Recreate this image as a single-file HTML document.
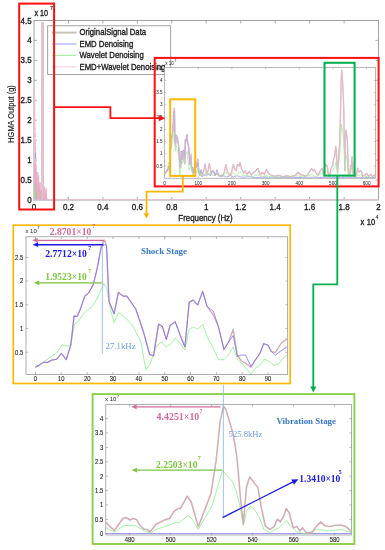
<!DOCTYPE html><html><head><meta charset="utf-8"><title>HGMA Output denoising</title>
<style>html,body{margin:0;padding:0;background:#fff;width:385px;height:550px;overflow:hidden}svg{display:block}</style></head><body>
<svg width="385" height="550" viewBox="0 0 385 550">
<rect width="385" height="550" fill="#fff"/>
<rect x="34.0" y="20.5" width="344.5" height="179.5" fill="none" stroke="#8c8c8c" stroke-width="0.80"/>
<path d="M68.5 200.0v-3.0M68.5 20.5v3.0M102.9 200.0v-3.0M102.9 20.5v3.0M137.4 200.0v-3.0M137.4 20.5v3.0M171.8 200.0v-3.0M171.8 20.5v3.0M206.2 200.0v-3.0M206.2 20.5v3.0M240.7 200.0v-3.0M240.7 20.5v3.0M275.2 200.0v-3.0M275.2 20.5v3.0M309.6 200.0v-3.0M309.6 20.5v3.0M344.1 200.0v-3.0M344.1 20.5v3.0M34.0 180.1h3.0M378.5 180.1h-3.0M34.0 160.1h3.0M378.5 160.1h-3.0M34.0 140.2h3.0M378.5 140.2h-3.0M34.0 120.2h3.0M378.5 120.2h-3.0M34.0 100.3h3.0M378.5 100.3h-3.0M34.0 80.3h3.0M378.5 80.3h-3.0M34.0 60.4h3.0M378.5 60.4h-3.0M34.0 40.4h3.0M378.5 40.4h-3.0" stroke="#8c8c8c" stroke-width="0.70" fill="none"/>
<text transform="translate(34.00,210.20) scale(1,1.130)" font-size="8.00" fill="#1a1a1a" stroke="#1a1a1a" stroke-width="0.30" text-anchor="middle" font-family='"Liberation Sans", Arial, Helvetica, sans-serif' font-weight="normal">0</text>
<text transform="translate(68.45,210.20) scale(1,1.130)" font-size="8.00" fill="#1a1a1a" stroke="#1a1a1a" stroke-width="0.30" text-anchor="middle" font-family='"Liberation Sans", Arial, Helvetica, sans-serif' font-weight="normal">0.2</text>
<text transform="translate(102.90,210.20) scale(1,1.130)" font-size="8.00" fill="#1a1a1a" stroke="#1a1a1a" stroke-width="0.30" text-anchor="middle" font-family='"Liberation Sans", Arial, Helvetica, sans-serif' font-weight="normal">0.4</text>
<text transform="translate(137.35,210.20) scale(1,1.130)" font-size="8.00" fill="#1a1a1a" stroke="#1a1a1a" stroke-width="0.30" text-anchor="middle" font-family='"Liberation Sans", Arial, Helvetica, sans-serif' font-weight="normal">0.6</text>
<text transform="translate(171.80,210.20) scale(1,1.130)" font-size="8.00" fill="#1a1a1a" stroke="#1a1a1a" stroke-width="0.30" text-anchor="middle" font-family='"Liberation Sans", Arial, Helvetica, sans-serif' font-weight="normal">0.8</text>
<text transform="translate(206.25,210.20) scale(1,1.130)" font-size="8.00" fill="#1a1a1a" stroke="#1a1a1a" stroke-width="0.30" text-anchor="middle" font-family='"Liberation Sans", Arial, Helvetica, sans-serif' font-weight="normal">1</text>
<text transform="translate(240.70,210.20) scale(1,1.130)" font-size="8.00" fill="#1a1a1a" stroke="#1a1a1a" stroke-width="0.30" text-anchor="middle" font-family='"Liberation Sans", Arial, Helvetica, sans-serif' font-weight="normal">1.2</text>
<text transform="translate(275.15,210.20) scale(1,1.130)" font-size="8.00" fill="#1a1a1a" stroke="#1a1a1a" stroke-width="0.30" text-anchor="middle" font-family='"Liberation Sans", Arial, Helvetica, sans-serif' font-weight="normal">1.4</text>
<text transform="translate(309.60,210.20) scale(1,1.130)" font-size="8.00" fill="#1a1a1a" stroke="#1a1a1a" stroke-width="0.30" text-anchor="middle" font-family='"Liberation Sans", Arial, Helvetica, sans-serif' font-weight="normal">1.6</text>
<text transform="translate(344.05,210.20) scale(1,1.130)" font-size="8.00" fill="#1a1a1a" stroke="#1a1a1a" stroke-width="0.30" text-anchor="middle" font-family='"Liberation Sans", Arial, Helvetica, sans-serif' font-weight="normal">1.8</text>
<text transform="translate(378.50,210.20) scale(1,1.130)" font-size="8.00" fill="#1a1a1a" stroke="#1a1a1a" stroke-width="0.30" text-anchor="middle" font-family='"Liberation Sans", Arial, Helvetica, sans-serif' font-weight="normal">2</text>
<text transform="translate(31.60,203.00) scale(1,1.130)" font-size="8.00" fill="#1a1a1a" stroke="#1a1a1a" stroke-width="0.30" text-anchor="end" font-family='"Liberation Sans", Arial, Helvetica, sans-serif' font-weight="normal">0</text>
<text transform="translate(31.60,183.06) scale(1,1.130)" font-size="8.00" fill="#1a1a1a" stroke="#1a1a1a" stroke-width="0.30" text-anchor="end" font-family='"Liberation Sans", Arial, Helvetica, sans-serif' font-weight="normal">0.5</text>
<text transform="translate(31.60,163.11) scale(1,1.130)" font-size="8.00" fill="#1a1a1a" stroke="#1a1a1a" stroke-width="0.30" text-anchor="end" font-family='"Liberation Sans", Arial, Helvetica, sans-serif' font-weight="normal">1</text>
<text transform="translate(31.60,143.17) scale(1,1.130)" font-size="8.00" fill="#1a1a1a" stroke="#1a1a1a" stroke-width="0.30" text-anchor="end" font-family='"Liberation Sans", Arial, Helvetica, sans-serif' font-weight="normal">1.5</text>
<text transform="translate(31.60,123.22) scale(1,1.130)" font-size="8.00" fill="#1a1a1a" stroke="#1a1a1a" stroke-width="0.30" text-anchor="end" font-family='"Liberation Sans", Arial, Helvetica, sans-serif' font-weight="normal">2</text>
<text transform="translate(31.60,103.28) scale(1,1.130)" font-size="8.00" fill="#1a1a1a" stroke="#1a1a1a" stroke-width="0.30" text-anchor="end" font-family='"Liberation Sans", Arial, Helvetica, sans-serif' font-weight="normal">2.5</text>
<text transform="translate(31.60,83.33) scale(1,1.130)" font-size="8.00" fill="#1a1a1a" stroke="#1a1a1a" stroke-width="0.30" text-anchor="end" font-family='"Liberation Sans", Arial, Helvetica, sans-serif' font-weight="normal">3</text>
<text transform="translate(31.60,63.39) scale(1,1.130)" font-size="8.00" fill="#1a1a1a" stroke="#1a1a1a" stroke-width="0.30" text-anchor="end" font-family='"Liberation Sans", Arial, Helvetica, sans-serif' font-weight="normal">3.5</text>
<text transform="translate(31.60,43.44) scale(1,1.130)" font-size="8.00" fill="#1a1a1a" stroke="#1a1a1a" stroke-width="0.30" text-anchor="end" font-family='"Liberation Sans", Arial, Helvetica, sans-serif' font-weight="normal">4</text>
<text transform="translate(31.60,23.50) scale(1,1.130)" font-size="8.00" fill="#1a1a1a" stroke="#1a1a1a" stroke-width="0.30" text-anchor="end" font-family='"Liberation Sans", Arial, Helvetica, sans-serif' font-weight="normal">4.5</text>
<text transform="translate(34.40,16.00) scale(1,1.130)" font-size="7.20" fill="#1a1a1a" stroke="#1a1a1a" stroke-width="0.30" text-anchor="start" font-family='"Liberation Sans", Arial, Helvetica, sans-serif' font-weight="normal">x 10</text>
<text transform="translate(49.90,10.00) scale(1,1.130)" font-size="5.40" fill="#1a1a1a" stroke="#1a1a1a" stroke-width="0.08" text-anchor="start" font-family='"Liberation Sans", Arial, Helvetica, sans-serif' font-weight="normal">7</text>
<text transform="translate(360.60,224.80) scale(1,1.130)" font-size="7.60" fill="#1a1a1a" stroke="#1a1a1a" stroke-width="0.30" text-anchor="start" font-family='"Liberation Sans", Arial, Helvetica, sans-serif' font-weight="normal">x</text>
<text transform="translate(366.80,224.80) scale(1,1.130)" font-size="7.60" fill="#1a1a1a" stroke="#1a1a1a" stroke-width="0.30" text-anchor="start" font-family='"Liberation Sans", Arial, Helvetica, sans-serif' font-weight="normal">10</text>
<text transform="translate(375.60,219.40) scale(1,1.130)" font-size="5.40" fill="#1a1a1a" stroke="#1a1a1a" stroke-width="0.08" text-anchor="start" font-family='"Liberation Sans", Arial, Helvetica, sans-serif' font-weight="normal">4</text>
<text transform="translate(205.50,220.90) scale(1,1.130)" font-size="7.90" fill="#1a1a1a" stroke="#1a1a1a" stroke-width="0.30" text-anchor="middle" font-family='"Liberation Sans", Arial, Helvetica, sans-serif' font-weight="normal">Frequency (Hz)</text>
<text x="0.0" y="0.0" font-size="7.45" fill="#1a1a1a" stroke="#1a1a1a" stroke-width="0.12" text-anchor="middle" font-family='"Liberation Sans", Arial, Helvetica, sans-serif' font-weight="normal" transform="translate(14.3,114) rotate(-90) scale(1,1.1)">HGMA Output (g)</text>
<path d="M33.9 200L34.1 84.5L35.0 84.5L35.6 140L36.2 152L36.5 171.5L38.6 172.5L39.2 182.5L41 182.5L41 200Z" fill="#f0bfd0"/>
<path d="M43.6 200L43.8 185.5L45.2 187L46.4 193L47.4 199L47.8 200Z" fill="#f0bfd0"/>
<polyline points="34.3,163.6 34.5,199.5 34.8,166.8 35.0,199.5 35.2,177.7 35.4,199.5 35.7,164.0 35.9,199.5 36.1,165.2 36.3,199.5 36.6,182.2 36.8,199.5 37.0,176.6 37.2,199.5 37.5,181.2 37.7,199.5 37.9,182.8 38.1,199.5 38.4,185.1 38.6,199.5 38.8,175.3 39.0,199.5 39.3,187.0 39.5,199.5 39.7,184.9 39.9,199.5 40.2,192.1 40.4,199.5 40.6,190.9 40.8,199.5 41.1,190.0 41.3,199.5 41.5,190.0 41.7,199.5 42.0,190.0 42.2,199.5 42.4,190.0 42.6,199.5 42.9,190.0 43.1,199.5 43.3,190.0 43.5,199.5 43.8,188.4 44.0,199.5 44.2,197.8 44.4,199.5 44.7,197.6 44.9,199.5 45.1,194.5 45.3,199.5 45.6,194.2 45.8,199.5 46.0,189.6 46.2,199.5 46.5,188.2 46.7,199.5" fill="none" stroke="#e6a9c0" stroke-width="0.45" stroke-linejoin="round" />
<polyline points="34.6,199.0 34.9,184.5 35.2,199.0" fill="none" stroke="#7de07d" stroke-width="0.50" stroke-linejoin="round" />
<polyline points="36.4,199.0 36.7,192.0 37.0,199.0" fill="none" stroke="#7de07d" stroke-width="0.40" stroke-linejoin="round" />
<polyline points="42.4,199.0 42.7,190.0 43.0,199.0" fill="none" stroke="#7de07d" stroke-width="0.50" stroke-linejoin="round" />
<polyline points="35.3,200.0 35.4,128.0 35.6,200.0" fill="none" stroke="#b4b4f6" stroke-width="0.50" stroke-linejoin="round" stroke-dasharray="2 5"/>
<polyline points="35.1,153.0 35.5,153.0 35.3,159.0" fill="none" stroke="#8a8af0" stroke-width="0.70" stroke-linejoin="round" />
<rect x="41.4" y="22" width="2.3" height="178" fill="#e2c6cd"/>
<path d="M41.6 200V22M43.5 22V200" stroke="#ceadb6" stroke-width="0.5" fill="none"/>
<polyline points="34.0,200.0 60.0,200.0" fill="none" stroke="#b8b8f0" stroke-width="0.50" stroke-linejoin="round" />
<polyline points="46.0,199.6 66.5,199.6 67.6,197.6 68.6,199.6 378.5,199.6" fill="none" stroke="#e6c0cc" stroke-width="1.00" stroke-linejoin="round" />
<rect x="47.7" y="25.8" width="123.0" height="48.6" fill="#fff" stroke="#8c8c8c" stroke-width="0.8"/>
<line x1="51.9" y1="32.6" x2="76.4" y2="32.6" stroke="#c8c2b4" stroke-width="2.0"/>
<text transform="translate(79.50,35.40) scale(1,1.130)" font-size="7.75" fill="#1a1a1a" stroke="#1a1a1a" stroke-width="0.30" text-anchor="start" font-family='"Liberation Sans", Arial, Helvetica, sans-serif' font-weight="normal">OriginalSignal Data</text>
<line x1="51.9" y1="44.0" x2="76.4" y2="44.0" stroke="#a8a8ff" stroke-width="1.2"/>
<text transform="translate(79.50,46.80) scale(1,1.130)" font-size="7.75" fill="#1a1a1a" stroke="#1a1a1a" stroke-width="0.30" text-anchor="start" font-family='"Liberation Sans", Arial, Helvetica, sans-serif' font-weight="normal">EMD Denoising</text>
<line x1="51.9" y1="55.4" x2="76.4" y2="55.4" stroke="#a6f2a6" stroke-width="1.2"/>
<text transform="translate(79.50,58.20) scale(1,1.130)" font-size="7.75" fill="#1a1a1a" stroke="#1a1a1a" stroke-width="0.30" text-anchor="start" font-family='"Liberation Sans", Arial, Helvetica, sans-serif' font-weight="normal">Wavelet Denoising</text>
<line x1="51.9" y1="66.8" x2="76.4" y2="66.8" stroke="#ffd6e4" stroke-width="1.2"/>
<text transform="translate(79.50,69.60) scale(1,1.130)" font-size="7.75" fill="#1a1a1a" stroke="#1a1a1a" stroke-width="0.30" text-anchor="start" font-family='"Liberation Sans", Arial, Helvetica, sans-serif' font-weight="normal">EMD+Wavelet Denoising</text>
<rect x="164.5" y="67.5" width="211.0" height="110.7" fill="#fff"/>
<rect x="164.5" y="67.5" width="211.0" height="110.7" fill="none" stroke="#8c8c8c" stroke-width="0.60"/>
<path d="M198.3 178.2v-1.8M198.3 67.5v1.8M231.9 178.2v-1.8M231.9 67.5v1.8M265.6 178.2v-1.8M265.6 67.5v1.8M299.3 178.2v-1.8M299.3 67.5v1.8M332.9 178.2v-1.8M332.9 67.5v1.8M366.6 178.2v-1.8M366.6 67.5v1.8M164.5 166.0h1.8M375.5 166.0h-1.8M164.5 153.8h1.8M375.5 153.8h-1.8M164.5 141.5h1.8M375.5 141.5h-1.8M164.5 129.3h1.8M375.5 129.3h-1.8M164.5 117.1h1.8M375.5 117.1h-1.8M164.5 104.8h1.8M375.5 104.8h-1.8M164.5 92.6h1.8M375.5 92.6h-1.8M164.5 80.4h1.8M375.5 80.4h-1.8" stroke="#8c8c8c" stroke-width="0.50" fill="none"/>
<text transform="translate(164.60,185.00) scale(1,1.000)" font-size="4.60" fill="#1a1a1a" text-anchor="middle" font-family='"Liberation Sans", Arial, Helvetica, sans-serif' font-weight="normal">0</text>
<text transform="translate(198.27,185.00) scale(1,1.000)" font-size="4.60" fill="#1a1a1a" text-anchor="middle" font-family='"Liberation Sans", Arial, Helvetica, sans-serif' font-weight="normal">100</text>
<text transform="translate(231.94,185.00) scale(1,1.000)" font-size="4.60" fill="#1a1a1a" text-anchor="middle" font-family='"Liberation Sans", Arial, Helvetica, sans-serif' font-weight="normal">200</text>
<text transform="translate(265.61,185.00) scale(1,1.000)" font-size="4.60" fill="#1a1a1a" text-anchor="middle" font-family='"Liberation Sans", Arial, Helvetica, sans-serif' font-weight="normal">300</text>
<text transform="translate(299.28,185.00) scale(1,1.000)" font-size="4.60" fill="#1a1a1a" text-anchor="middle" font-family='"Liberation Sans", Arial, Helvetica, sans-serif' font-weight="normal">400</text>
<text transform="translate(332.95,185.00) scale(1,1.000)" font-size="4.60" fill="#1a1a1a" text-anchor="middle" font-family='"Liberation Sans", Arial, Helvetica, sans-serif' font-weight="normal">500</text>
<text transform="translate(366.62,185.00) scale(1,1.000)" font-size="4.60" fill="#1a1a1a" text-anchor="middle" font-family='"Liberation Sans", Arial, Helvetica, sans-serif' font-weight="normal">600</text>
<text transform="translate(162.60,167.57) scale(1,1.130)" font-size="4.60" fill="#1a1a1a" text-anchor="end" font-family='"Liberation Sans", Arial, Helvetica, sans-serif' font-weight="normal">0.5</text>
<text transform="translate(162.60,155.35) scale(1,1.130)" font-size="4.60" fill="#1a1a1a" text-anchor="end" font-family='"Liberation Sans", Arial, Helvetica, sans-serif' font-weight="normal">1</text>
<text transform="translate(162.60,143.12) scale(1,1.130)" font-size="4.60" fill="#1a1a1a" text-anchor="end" font-family='"Liberation Sans", Arial, Helvetica, sans-serif' font-weight="normal">1.5</text>
<text transform="translate(162.60,130.90) scale(1,1.130)" font-size="4.60" fill="#1a1a1a" text-anchor="end" font-family='"Liberation Sans", Arial, Helvetica, sans-serif' font-weight="normal">2</text>
<text transform="translate(162.60,118.67) scale(1,1.130)" font-size="4.60" fill="#1a1a1a" text-anchor="end" font-family='"Liberation Sans", Arial, Helvetica, sans-serif' font-weight="normal">2.5</text>
<text transform="translate(162.60,106.45) scale(1,1.130)" font-size="4.60" fill="#1a1a1a" text-anchor="end" font-family='"Liberation Sans", Arial, Helvetica, sans-serif' font-weight="normal">3</text>
<text transform="translate(162.60,94.22) scale(1,1.130)" font-size="4.60" fill="#1a1a1a" text-anchor="end" font-family='"Liberation Sans", Arial, Helvetica, sans-serif' font-weight="normal">3.5</text>
<text transform="translate(162.60,82.00) scale(1,1.130)" font-size="4.60" fill="#1a1a1a" text-anchor="end" font-family='"Liberation Sans", Arial, Helvetica, sans-serif' font-weight="normal">4</text>
<text transform="translate(162.60,69.77) scale(1,1.130)" font-size="4.60" fill="#1a1a1a" text-anchor="end" font-family='"Liberation Sans", Arial, Helvetica, sans-serif' font-weight="normal">4.5</text>
<text transform="translate(165.20,64.60) scale(1,1.130)" font-size="4.60" fill="#1a1a1a" text-anchor="start" font-family='"Liberation Sans", Arial, Helvetica, sans-serif' font-weight="normal">x 10</text>
<text transform="translate(174.40,61.60) scale(1,1.130)" font-size="3.40" fill="#1a1a1a" text-anchor="start" font-family='"Liberation Sans", Arial, Helvetica, sans-serif' font-weight="normal">7</text>
<g clip-path="url(#icl)">
<clipPath id="icl"><rect x="164.5" y="67.5" width="211.0" height="110.7"/></clipPath>
<polyline points="165.2,173.8 165.7,172.7 166.3,171.2 166.9,171.2 167.4,170.1 168.0,169.6 168.6,166.6 169.3,169.8 169.9,162.3 170.3,147.3 170.7,147.5 171.1,143.6 171.7,137.0 172.2,135.4 172.8,131.1 173.3,123.3 173.8,111.7 174.3,108.2 174.5,110.9 174.9,139.7 175.5,146.2 176.1,135.1 176.7,137.0 177.2,137.0 178.3,143.6 179.3,155.4 180.2,167.2 180.6,167.9 181.3,151.5 181.8,152.8 182.3,159.4 182.8,152.2 183.5,150.3 184.1,157.4 184.7,163.3 185.3,140.3 185.8,139.0 186.4,141.6 187.1,134.7 187.6,142.3 188.5,146.9 189.1,152.8 189.8,164.6 190.4,160.7 191.0,154.2 191.6,167.4 192.1,170.5 192.6,171.6 193.3,173.8 193.9,170.2 194.5,166.7 195.0,161.5 195.6,162.5 196.0,165.7 196.5,166.0 197.2,161.5 198.1,159.0 198.3,166.0 199.6,174.5 200.6,172.3 202.0,175.8 203.7,170.9 205.0,164.0 206.7,174.0 208.0,170.9 209.4,163.3 211.1,173.3 213.1,170.6 215.1,175.3 217.1,173.3 219.1,175.8 221.5,175.0 223.2,175.8 224.5,170.9 225.9,164.5 227.2,170.9 228.6,173.3 230.3,175.3 231.9,170.9 233.3,164.5 234.6,168.4 236.0,170.6 237.0,167.2 237.7,164.5 239.0,166.0 240.0,162.3 241.4,168.4 242.4,170.6 243.7,173.3 245.1,170.6 246.8,174.5 248.1,173.3 249.4,171.4 251.1,175.3 252.8,173.3 255.5,170.9 257.9,168.4 259.2,172.1 260.6,175.0 262.2,172.3 264.3,174.5 266.3,169.4 268.3,173.3 271.0,175.0 273.7,176.2 276.4,175.8 280.1,175.3 282.4,177.0 284.8,176.2 287.2,175.8 289.9,176.7 292.5,176.2 295.2,175.3 298.3,172.3 300.3,174.5 302.6,175.0 305.3,176.2 307.7,174.5 310.1,170.9 311.7,168.7 313.1,170.9 314.4,169.6 316.1,173.3 318.1,175.0 320.2,170.9 322.3,168.3 322.9,171.7 323.7,175.3 324.4,170.1 325.1,165.2 325.6,164.4 326.3,166.5 326.8,165.2 327.3,166.0 328.0,171.7 328.5,174.0 329.0,174.5 329.6,176.5 330.1,173.5 330.6,170.1 331.3,168.3 331.9,166.5 332.8,165.2 333.5,159.4 334.1,156.8 334.6,156.6 335.7,146.3 336.3,151.2 337.5,172.2 338.5,158.8 339.6,144.3 340.4,116.3 341.1,82.8 341.6,69.9 342.0,72.3 342.6,82.2 343.1,92.1 343.5,102.8 343.8,111.3 344.0,123.0 344.5,149.9 344.9,170.1 345.4,138.7 345.9,130.1 346.5,133.9 347.3,139.0 347.9,156.7 348.5,171.9 349.3,174.5 350.0,171.9 350.5,165.6 351.0,168.1 351.5,163.9 352.0,156.7 352.4,160.5 353.1,173.2 353.7,171.9 354.2,175.7 354.6,173.2 355.1,177.0 356.1,177.5 356.9,171.9 357.6,168.1 358.3,171.4 359.1,171.9 360.1,170.9 361.0,170.9 361.8,171.9 362.5,175.7 362.7,175.8 364.6,175.3 366.6,173.3 368.6,176.2 370.7,174.3 372.7,176.7 374.7,174.8 376.7,176.2" fill="none" stroke="#d4b0b8" stroke-width="1.30" stroke-linejoin="round" />
<polyline points="165.2,173.8 165.7,172.7 166.3,171.2 166.9,171.2 167.4,170.1 168.0,169.6 168.6,166.6 169.3,169.8 169.9,162.3 170.3,147.3 170.7,147.5 171.1,143.6 171.7,137.0 172.2,135.4 172.8,131.1 173.3,123.3 173.8,111.7 174.3,110.5 174.5,110.9 174.9,139.7 175.5,146.2 176.1,135.1 176.7,137.0 177.2,137.0 178.3,143.6 179.3,155.4 180.2,167.2 180.6,167.9 181.3,151.5 181.8,152.8 182.3,159.4 182.8,152.2 183.5,150.3 184.1,157.4 184.7,163.3 185.3,140.3 185.8,139.0 186.4,141.6 187.1,134.7 187.6,142.3 188.5,144.9 189.1,152.8 189.8,164.6 190.4,160.7 191.0,157.4 191.6,168.1 192.1,167.4 192.6,167.4 193.3,173.3 193.9,170.2 194.5,166.7 195.0,161.5 195.6,162.5 196.0,165.7 196.5,167.4 197.2,165.3 198.1,163.2 198.3,170.9 199.6,175.8 201.0,169.6 202.3,177.0 204.3,174.5 206.4,176.2 208.4,173.3 210.4,175.8 212.4,170.9 213.8,172.1 215.1,175.8 216.8,169.6 218.5,174.5 220.5,177.0 223.5,175.8 226.9,177.0 230.3,175.3 233.6,177.0 237.0,175.8 242.0,177.2 248.8,176.7 255.5,177.5 265.6,177.2 279.1,177.5 299.3,177.5 312.7,177.2 321.5,177.5 322.8,177.6 324.2,177.6 325.5,177.4 326.9,177.7 328.2,177.4 329.6,177.5 330.9,177.7 332.3,177.5 333.6,177.7 335.0,177.5 336.3,177.7 337.7,177.7 339.0,177.5 340.4,177.3 341.7,177.7 343.1,177.6 344.4,177.4 345.7,177.2 347.1,177.4 348.4,177.5 349.8,177.2 351.1,177.7 352.5,177.3 353.8,177.6 355.2,177.6 356.5,177.7 357.9,177.6 359.2,177.3 360.6,177.6 361.9,177.4 363.3,177.4 364.6,177.7 376.7,177.7" fill="none" stroke="#8e88ee" stroke-width="0.65" stroke-linejoin="round" />
<polyline points="165.2,172.5 165.7,173.1 166.4,170.8 167.2,168.6 168.0,166.2 168.7,162.3 169.4,162.9 169.9,162.3 170.4,151.4 170.9,150.1 171.4,146.9 172.0,144.3 172.7,142.3 173.3,138.6 173.7,134.7 174.2,130.5 174.6,133.1 175.0,143.6 175.5,150.8 176.1,145.5 177.2,148.8 178.0,152.8 179.0,160.7 179.7,175.1 180.2,172.5 181.0,163.3 181.7,160.7 182.3,163.3 183.0,161.3 183.5,158.7 184.1,161.3 184.7,164.8 185.3,154.1 185.8,153.0 186.4,154.1 187.1,151.5 187.6,158.0 188.5,164.0 189.1,169.8 189.8,169.8 190.4,167.2 191.0,163.3 191.6,169.5 192.5,173.0 193.3,177.3 193.9,174.4 194.4,173.0 195.1,169.5 195.8,170.9 196.4,172.8 196.9,172.3 197.6,168.8 198.1,167.4 198.3,173.3 200.0,176.2 202.3,172.1 204.3,175.8 206.7,170.9 208.7,175.3 211.1,171.4 213.4,175.8 215.8,173.3 218.5,176.2 221.8,175.3 225.9,172.1 228.6,175.8 233.3,172.8 236.0,175.8 240.0,171.4 242.7,175.8 247.1,175.3 252.1,177.0 257.9,174.5 262.2,177.0 266.3,175.3 271.0,177.2 279.1,177.0 298.3,175.8 302.6,177.2 311.7,174.5 316.1,176.7 321.5,173.3 322.3,172.7 323.1,175.3 323.9,176.7 324.8,172.7 325.4,170.9 326.1,171.4 327.2,171.2 328.2,174.5 329.6,177.6 330.6,174.5 331.6,172.7 332.9,170.6 333.6,168.6 334.5,168.3 335.8,162.8 336.3,164.4 337.5,174.4 338.5,165.6 339.8,154.3 340.7,138.7 341.5,124.1 342.2,128.6 343.0,133.1 343.7,140.9 344.3,154.3 344.9,171.2 345.4,158.8 346.1,154.7 346.8,158.0 347.5,164.4 348.3,174.5 349.3,177.0 350.7,173.2 352.0,166.8 352.7,171.9 353.7,176.5 355.1,178.3 356.9,174.5 359.1,175.7 361.0,174.5 362.5,177.0 362.7,177.1 364.6,177.0 367.3,176.2 370.7,177.2 374.0,176.5 376.7,177.2" fill="none" stroke="#86ec86" stroke-width="0.60" stroke-linejoin="round" />
<polyline points="165.4,174.3 165.9,173.2 166.4,171.7 167.0,171.7 167.5,170.6 168.2,170.1 168.8,167.1 169.4,170.3 170.0,162.8 170.5,147.8 170.9,148.0 171.3,144.1 171.8,137.5 172.3,135.9 172.9,131.6 173.4,123.8 174.0,112.2 174.4,108.7 174.7,111.4 175.0,140.2 175.7,146.7 176.2,135.6 176.8,137.5 177.3,137.5 178.5,144.1 179.5,155.9 180.3,167.7 180.8,168.4 181.5,152.0 182.0,153.3 182.5,159.9 183.0,152.7 183.6,150.8 184.3,157.9 184.9,163.8 185.5,140.8 185.9,139.5 186.5,142.1 187.2,135.2 187.8,142.8 188.6,147.4 189.3,153.3 190.0,165.1 190.6,161.2 191.2,154.7 191.7,167.9 192.3,171.0 192.8,172.1 193.5,174.3 194.0,170.7 194.7,167.2 195.2,162.0 195.7,163.0 196.2,166.2 196.7,166.5 197.4,162.0 198.2,159.5 198.4,166.5 199.8,175.0 200.8,172.8 202.1,176.3 203.8,171.4 205.2,164.5 206.8,174.5 208.2,171.4 209.5,163.8 211.2,173.8 213.2,171.1 215.3,175.8 217.3,173.8 219.3,176.3 221.7,175.5 223.3,176.3 224.7,171.4 226.0,165.0 227.4,171.4 228.7,173.8 230.4,175.8 232.1,171.4 233.4,165.0 234.8,168.9 236.1,171.1 237.1,167.7 237.8,165.0 239.2,166.5 240.2,162.8 241.5,168.9 242.5,171.1 243.9,173.8 245.2,171.1 246.9,175.0 248.3,173.8 249.6,171.9 251.3,175.8 253.0,173.8 255.7,171.4 258.0,168.9 259.4,172.6 260.7,175.5 262.4,172.8 264.4,175.0 266.4,169.9 268.5,173.8 271.1,175.5 273.8,176.7 276.5,176.3 280.2,175.8 282.6,177.5 285.0,176.7 287.3,176.3 290.0,177.2 292.7,176.7 295.4,175.8 298.4,172.8 300.4,175.0 302.8,175.5 305.5,176.7 307.8,175.0 310.2,171.4 311.9,169.2 313.2,171.4 314.6,170.1 316.3,173.8 318.3,175.5 320.3,171.4 322.5,168.8 323.0,172.2 323.9,175.8 324.6,170.6 325.3,165.7 325.8,164.9 326.4,167.0 327.0,165.7 327.5,166.5 328.2,172.2 328.7,174.5 329.2,175.0 329.7,177.0 330.2,174.0 330.7,170.6 331.4,168.8 332.1,167.0 332.9,165.7 333.6,159.9 334.3,157.3 334.7,157.1 335.8,146.8 336.5,151.7 337.6,172.7 338.6,159.3 339.7,144.8 340.6,116.8 341.2,83.3 341.8,70.4 342.1,72.8 342.7,82.7 343.3,92.6 343.7,103.3 343.9,111.8 344.2,123.5 344.6,150.4 345.0,170.6 345.6,139.2 346.1,130.6 346.7,134.4 347.4,139.5 348.0,157.2 348.7,172.4 349.4,175.0 350.1,172.4 350.6,166.1 351.1,168.6 351.6,164.4 352.1,157.2 352.6,161.0 353.2,173.7 353.8,172.4 354.3,176.2 354.8,173.7 355.3,177.5 356.3,178.0 357.0,172.4 357.7,168.6 358.5,171.9 359.2,172.4 360.2,171.4 361.2,171.4 361.9,172.4 362.6,176.2 362.8,176.3 364.7,175.8 366.8,173.8 368.8,176.7 370.8,174.8 372.8,177.2 374.9,175.3 376.9,176.7" fill="none" stroke="#f2c6d6" stroke-width="0.60" stroke-linejoin="round" />
</g>
<rect x="19.2" y="3.6" width="34.9" height="205.9" fill="none" stroke="#ff1010" stroke-width="2"/>
<rect x="154.7" y="57.9" width="223.9" height="128.5" fill="none" stroke="#ff1010" stroke-width="2"/>
<path d="M54 107.2H110.4V118.2H160" fill="none" stroke="#ff1010" stroke-width="1.8"/>
<path d="M165.2 118.2L158.8 115.1V121.3Z" fill="#ff1010"/>
<rect x="170.2" y="99.3" width="25.0" height="76.6" fill="none" stroke="#ffb800" stroke-width="2"/>
<path d="M182.8 176.1V191.7H146.5V213.8" fill="none" stroke="#ffb800" stroke-width="1.8"/>
<path d="M146.5 218.6L143.6 213.2H149.4Z" fill="#ffb800"/>
<rect x="324.5" y="62.8" width="30.1" height="112.8" fill="none" stroke="#00b050" stroke-width="2"/>
<path d="M337.3 175.6V284.3H313.3V387" fill="none" stroke="#00b050" stroke-width="1.8"/>
<path d="M313.3 392.6L310.2 386.6H316.4Z" fill="#00b050"/>
<rect x="26.0" y="236.8" width="261.7" height="137.6" fill="none" stroke="#8c8c8c" stroke-width="0.70"/>
<path d="M35.5 374.4v-2.2M35.5 236.8v2.2M61.3 374.4v-2.2M61.3 236.8v2.2M87.2 374.4v-2.2M87.2 236.8v2.2M113.0 374.4v-2.2M113.0 236.8v2.2M138.9 374.4v-2.2M138.9 236.8v2.2M164.7 374.4v-2.2M164.7 236.8v2.2M190.5 374.4v-2.2M190.5 236.8v2.2M216.4 374.4v-2.2M216.4 236.8v2.2M242.2 374.4v-2.2M242.2 236.8v2.2M268.1 374.4v-2.2M268.1 236.8v2.2M26.0 352.2h2.2M287.7 352.2h-2.2M26.0 328.5h2.2M287.7 328.5h-2.2M26.0 304.8h2.2M287.7 304.8h-2.2M26.0 281.1h2.2M287.7 281.1h-2.2M26.0 257.4h2.2M287.7 257.4h-2.2" stroke="#8c8c8c" stroke-width="0.60" fill="none"/>
<text transform="translate(35.50,381.30) scale(1,1.130)" font-size="5.90" fill="#1a1a1a" stroke="#1a1a1a" stroke-width="0.08" text-anchor="middle" font-family='"Liberation Sans", Arial, Helvetica, sans-serif' font-weight="normal">0</text>
<text transform="translate(61.34,381.30) scale(1,1.130)" font-size="5.90" fill="#1a1a1a" stroke="#1a1a1a" stroke-width="0.08" text-anchor="middle" font-family='"Liberation Sans", Arial, Helvetica, sans-serif' font-weight="normal">10</text>
<text transform="translate(87.18,381.30) scale(1,1.130)" font-size="5.90" fill="#1a1a1a" stroke="#1a1a1a" stroke-width="0.08" text-anchor="middle" font-family='"Liberation Sans", Arial, Helvetica, sans-serif' font-weight="normal">20</text>
<text transform="translate(113.02,381.30) scale(1,1.130)" font-size="5.90" fill="#1a1a1a" stroke="#1a1a1a" stroke-width="0.08" text-anchor="middle" font-family='"Liberation Sans", Arial, Helvetica, sans-serif' font-weight="normal">30</text>
<text transform="translate(138.86,381.30) scale(1,1.130)" font-size="5.90" fill="#1a1a1a" stroke="#1a1a1a" stroke-width="0.08" text-anchor="middle" font-family='"Liberation Sans", Arial, Helvetica, sans-serif' font-weight="normal">40</text>
<text transform="translate(164.70,381.30) scale(1,1.130)" font-size="5.90" fill="#1a1a1a" stroke="#1a1a1a" stroke-width="0.08" text-anchor="middle" font-family='"Liberation Sans", Arial, Helvetica, sans-serif' font-weight="normal">50</text>
<text transform="translate(190.54,381.30) scale(1,1.130)" font-size="5.90" fill="#1a1a1a" stroke="#1a1a1a" stroke-width="0.08" text-anchor="middle" font-family='"Liberation Sans", Arial, Helvetica, sans-serif' font-weight="normal">60</text>
<text transform="translate(216.38,381.30) scale(1,1.130)" font-size="5.90" fill="#1a1a1a" stroke="#1a1a1a" stroke-width="0.08" text-anchor="middle" font-family='"Liberation Sans", Arial, Helvetica, sans-serif' font-weight="normal">70</text>
<text transform="translate(242.22,381.30) scale(1,1.130)" font-size="5.90" fill="#1a1a1a" stroke="#1a1a1a" stroke-width="0.08" text-anchor="middle" font-family='"Liberation Sans", Arial, Helvetica, sans-serif' font-weight="normal">80</text>
<text transform="translate(268.06,381.30) scale(1,1.130)" font-size="5.90" fill="#1a1a1a" stroke="#1a1a1a" stroke-width="0.08" text-anchor="middle" font-family='"Liberation Sans", Arial, Helvetica, sans-serif' font-weight="normal">90</text>
<text transform="translate(23.30,354.50) scale(1,1.130)" font-size="5.90" fill="#1a1a1a" stroke="#1a1a1a" stroke-width="0.08" text-anchor="end" font-family='"Liberation Sans", Arial, Helvetica, sans-serif' font-weight="normal">0.5</text>
<text transform="translate(23.30,330.80) scale(1,1.130)" font-size="5.90" fill="#1a1a1a" stroke="#1a1a1a" stroke-width="0.08" text-anchor="end" font-family='"Liberation Sans", Arial, Helvetica, sans-serif' font-weight="normal">1</text>
<text transform="translate(23.30,307.10) scale(1,1.130)" font-size="5.90" fill="#1a1a1a" stroke="#1a1a1a" stroke-width="0.08" text-anchor="end" font-family='"Liberation Sans", Arial, Helvetica, sans-serif' font-weight="normal">1.5</text>
<text transform="translate(23.30,283.40) scale(1,1.130)" font-size="5.90" fill="#1a1a1a" stroke="#1a1a1a" stroke-width="0.08" text-anchor="end" font-family='"Liberation Sans", Arial, Helvetica, sans-serif' font-weight="normal">2</text>
<text transform="translate(23.30,259.70) scale(1,1.130)" font-size="5.90" fill="#1a1a1a" stroke="#1a1a1a" stroke-width="0.08" text-anchor="end" font-family='"Liberation Sans", Arial, Helvetica, sans-serif' font-weight="normal">2.5</text>
<text x="25.4" y="233.0" font-size="6.00" fill="#1a1a1a" font-family='"Liberation Sans", Arial, Helvetica, sans-serif' font-weight="normal">x 10<tspan dx="0.4" dy="-3.6" font-size="4.20">7</tspan></text>
<clipPath id="scl"><rect x="26.0" y="236.8" width="261.7" height="137.6"/></clipPath>
<g clip-path="url(#scl)">
<polyline points="35.2,364.8 39.0,366.0 44.1,361.5 50.5,357.2 56.8,352.6 61.9,345.0 67.0,346.2 70.8,345.0 74.6,324.0 78.4,321.5 82.3,315.2 87.4,310.1 92.4,306.3 97.0,299.1 100.2,291.5 104.0,283.4 106.8,288.4 110.3,308.8 114.1,322.8 118.4,312.6 126.8,319.0 133.2,326.6 140.8,341.9 145.9,369.9 149.7,364.8 156.1,347.0 161.2,341.9 166.3,347.0 171.4,343.2 175.2,338.1 180.3,343.2 184.9,350.0 189.2,329.2 193.0,327.1 197.6,329.2 202.7,324.1 207.0,336.8 213.4,348.3 218.4,359.7 224.0,359.7 228.6,354.6 233.2,347.0 237.3,359.0 244.1,365.9 250.9,374.1 255.0,368.6 259.1,365.9 264.5,359.0 270.0,361.8 274.1,365.4 278.2,364.5 283.6,357.7 287.2,355.0" fill="none" stroke="#8af08a" stroke-width="0.80" stroke-linejoin="round" />
<polyline points="35.2,367.3 39.0,365.3 43.3,362.3 47.9,362.3 51.7,360.2 56.8,359.2 61.4,353.4 66.2,359.7 70.8,345.0 74.1,316.0 77.2,316.4 80.5,308.8 84.8,296.1 88.6,293.0 93.2,284.6 97.0,269.4 101.2,247.0 104.5,240.2 106.5,245.5 109.0,301.2 114.1,313.9 118.4,292.3 123.0,296.1 126.8,296.1 135.7,308.8 143.4,331.7 149.7,354.6 153.5,355.9 158.6,324.1 162.4,326.6 166.3,339.4 170.1,325.4 175.2,321.8 180.3,335.5 184.9,347.0 189.2,302.4 193.0,299.9 197.6,305.0 202.7,291.5 207.0,306.3 213.4,315.2 218.4,326.6 224.0,349.5 228.6,341.9 233.2,329.4 237.3,355.0 241.4,361.0 245.5,363.2 250.9,367.3 255.0,360.4 259.9,353.6 263.7,343.5 268.1,345.4 271.4,351.7 275.5,352.3 280.9,343.5 287.2,338.6" fill="none" stroke="#d6a8b6" stroke-width="1.35" stroke-linejoin="round" />
<polyline points="35.2,367.3 39.0,365.3 43.3,362.3 47.9,362.3 51.7,360.2 56.8,359.2 61.4,353.4 66.2,359.7 70.8,345.0 74.1,316.0 77.2,316.4 80.5,308.8 84.8,296.1 88.6,293.0 93.2,284.6 97.0,269.4 101.2,247.0 104.5,244.6 106.5,245.5 109.0,301.2 114.1,313.9 118.4,292.3 123.0,296.1 126.8,296.1 135.7,308.8 143.4,331.7 149.7,354.6 153.5,355.9 158.6,324.1 162.4,326.6 166.3,339.4 170.1,325.4 175.2,321.8 180.3,335.5 184.9,347.0 189.2,302.4 193.0,299.9 197.6,305.0 202.7,291.5 207.0,306.3 213.4,311.4 218.4,326.6 224.0,349.5 228.6,341.9 233.2,335.5 237.3,356.4 241.4,355.0 245.5,355.0 250.9,366.4 255.0,360.4 259.9,353.6 263.7,343.5 268.1,345.4 271.4,351.7 275.5,355.0 280.9,350.9 287.2,346.8" fill="none" stroke="#7c74ee" stroke-width="0.80" stroke-linejoin="round" />
</g>
<rect x="13.3" y="225.2" width="276.9" height="158.3" fill="none" stroke="#ffb800" stroke-width="1.7"/>
<line x1="102.4" y1="240" x2="102.4" y2="353.5" stroke="#8fb6e0" stroke-width="0.8"/>
<line x1="37.2" y1="240.3" x2="104.4" y2="240.3" stroke="#d46a98" stroke-width="1.2"/><path d="M32.2 240.3L37.7 237.9L37.7 242.7Z" fill="#d46a98"/>
<line x1="37.6" y1="244.7" x2="103.4" y2="244.7" stroke="#1a1ae6" stroke-width="1.4"/><path d="M32.6 244.7L38.1 242.3L38.1 247.1Z" fill="#1a1ae6"/>
<line x1="38.8" y1="282.8" x2="102.2" y2="282.8" stroke="#7cc640" stroke-width="1.2"/><path d="M33.8 282.8L39.3 280.4L39.3 285.2Z" fill="#7cc640"/>
<text x="49.8" y="234.6" font-size="9.60" fill="#d46a98" font-family='"Liberation Serif", "Times New Roman", serif' font-weight="bold">2.8701×10<tspan dx="1.0" dy="-6.8" font-size="5.80">7</tspan></text>
<text x="45.3" y="256.8" font-size="9.60" fill="#1a1ae6" font-family='"Liberation Serif", "Times New Roman", serif' font-weight="bold">2.7712×10<tspan dx="1.6" dy="-6.8" font-size="5.80">7</tspan></text>
<text x="45.3" y="279.8" font-size="9.60" fill="#7cc640" font-family='"Liberation Serif", "Times New Roman", serif' font-weight="bold">1.9523×10<tspan dx="1.6" dy="-6.8" font-size="5.80">7</tspan></text>
<text transform="translate(105.50,349.40) scale(1,1.000)" font-size="8.80" fill="#6c9fdc" text-anchor="start" font-family='"Liberation Serif", "Times New Roman", serif' font-weight="normal">27.1kHz</text>
<text transform="translate(141.00,253.50) scale(1,1.000)" font-size="8.85" fill="#3677c4" text-anchor="start" font-family='"Liberation Serif", "Times New Roman", serif' font-weight="bold">Shock Stage</text>
<rect x="105.8" y="404.5" width="245.8" height="130.5" fill="none" stroke="#8c8c8c" stroke-width="0.70"/>
<path d="M129.6 535.0v-2.2M129.6 404.5v2.2M170.6 535.0v-2.2M170.6 404.5v2.2M211.6 535.0v-2.2M211.6 404.5v2.2M252.6 535.0v-2.2M252.6 404.5v2.2M293.6 535.0v-2.2M293.6 404.5v2.2M334.6 535.0v-2.2M334.6 404.5v2.2M105.8 519.4h2.2M351.6 519.4h-2.2M105.8 505.0h2.2M351.6 505.0h-2.2M105.8 490.6h2.2M351.6 490.6h-2.2M105.8 476.2h2.2M351.6 476.2h-2.2M105.8 461.8h2.2M351.6 461.8h-2.2M105.8 447.4h2.2M351.6 447.4h-2.2M105.8 433.0h2.2M351.6 433.0h-2.2M105.8 418.6h2.2M351.6 418.6h-2.2" stroke="#8c8c8c" stroke-width="0.60" fill="none"/>
<text transform="translate(129.60,542.40) scale(1,1.130)" font-size="5.90" fill="#1a1a1a" stroke="#1a1a1a" stroke-width="0.08" text-anchor="middle" font-family='"Liberation Sans", Arial, Helvetica, sans-serif' font-weight="normal">480</text>
<text transform="translate(170.60,542.40) scale(1,1.130)" font-size="5.90" fill="#1a1a1a" stroke="#1a1a1a" stroke-width="0.08" text-anchor="middle" font-family='"Liberation Sans", Arial, Helvetica, sans-serif' font-weight="normal">500</text>
<text transform="translate(211.60,542.40) scale(1,1.130)" font-size="5.90" fill="#1a1a1a" stroke="#1a1a1a" stroke-width="0.08" text-anchor="middle" font-family='"Liberation Sans", Arial, Helvetica, sans-serif' font-weight="normal">520</text>
<text transform="translate(252.60,542.40) scale(1,1.130)" font-size="5.90" fill="#1a1a1a" stroke="#1a1a1a" stroke-width="0.08" text-anchor="middle" font-family='"Liberation Sans", Arial, Helvetica, sans-serif' font-weight="normal">540</text>
<text transform="translate(293.60,542.40) scale(1,1.130)" font-size="5.90" fill="#1a1a1a" stroke="#1a1a1a" stroke-width="0.08" text-anchor="middle" font-family='"Liberation Sans", Arial, Helvetica, sans-serif' font-weight="normal">560</text>
<text transform="translate(334.60,542.40) scale(1,1.130)" font-size="5.90" fill="#1a1a1a" stroke="#1a1a1a" stroke-width="0.08" text-anchor="middle" font-family='"Liberation Sans", Arial, Helvetica, sans-serif' font-weight="normal">580</text>
<text transform="translate(103.30,536.10) scale(1,1.130)" font-size="5.90" fill="#1a1a1a" stroke="#1a1a1a" stroke-width="0.08" text-anchor="end" font-family='"Liberation Sans", Arial, Helvetica, sans-serif' font-weight="normal">0</text>
<text transform="translate(103.30,521.70) scale(1,1.130)" font-size="5.90" fill="#1a1a1a" stroke="#1a1a1a" stroke-width="0.08" text-anchor="end" font-family='"Liberation Sans", Arial, Helvetica, sans-serif' font-weight="normal">0.5</text>
<text transform="translate(103.30,507.30) scale(1,1.130)" font-size="5.90" fill="#1a1a1a" stroke="#1a1a1a" stroke-width="0.08" text-anchor="end" font-family='"Liberation Sans", Arial, Helvetica, sans-serif' font-weight="normal">1</text>
<text transform="translate(103.30,492.90) scale(1,1.130)" font-size="5.90" fill="#1a1a1a" stroke="#1a1a1a" stroke-width="0.08" text-anchor="end" font-family='"Liberation Sans", Arial, Helvetica, sans-serif' font-weight="normal">1.5</text>
<text transform="translate(103.30,478.50) scale(1,1.130)" font-size="5.90" fill="#1a1a1a" stroke="#1a1a1a" stroke-width="0.08" text-anchor="end" font-family='"Liberation Sans", Arial, Helvetica, sans-serif' font-weight="normal">2</text>
<text transform="translate(103.30,464.10) scale(1,1.130)" font-size="5.90" fill="#1a1a1a" stroke="#1a1a1a" stroke-width="0.08" text-anchor="end" font-family='"Liberation Sans", Arial, Helvetica, sans-serif' font-weight="normal">2.5</text>
<text transform="translate(103.30,449.70) scale(1,1.130)" font-size="5.90" fill="#1a1a1a" stroke="#1a1a1a" stroke-width="0.08" text-anchor="end" font-family='"Liberation Sans", Arial, Helvetica, sans-serif' font-weight="normal">3</text>
<text transform="translate(103.30,435.30) scale(1,1.130)" font-size="5.90" fill="#1a1a1a" stroke="#1a1a1a" stroke-width="0.08" text-anchor="end" font-family='"Liberation Sans", Arial, Helvetica, sans-serif' font-weight="normal">3.5</text>
<text transform="translate(103.30,420.90) scale(1,1.130)" font-size="5.90" fill="#1a1a1a" stroke="#1a1a1a" stroke-width="0.08" text-anchor="end" font-family='"Liberation Sans", Arial, Helvetica, sans-serif' font-weight="normal">4</text>
<text x="105.0" y="401.2" font-size="6.00" fill="#1a1a1a" font-family='"Liberation Sans", Arial, Helvetica, sans-serif' font-weight="normal">x 10<tspan dx="0.4" dy="-3.6" font-size="4.20">7</tspan></text>
<clipPath id="vcl"><rect x="105.8" y="404.5" width="245.8" height="130.5"/></clipPath>
<g clip-path="url(#vcl)">
<polyline points="105.8,533.6 351.6,533.6" fill="none" stroke="#7c74ee" stroke-width="0.80" stroke-linejoin="round" />
<polyline points="105.8,527.3 110.4,530.4 115.6,532.0 120.8,527.3 124.9,525.2 129.1,525.8 135.3,525.6 141.6,529.4 149.9,533.1 156.1,529.4 162.3,527.3 170.6,524.8 174.8,522.5 180.0,522.1 187.9,515.7 191.2,517.6 198.3,529.3 204.3,518.9 212.2,505.7 217.5,487.3 222.7,470.1 226.7,475.4 232.0,480.7 235.9,489.9 239.9,505.7 243.3,525.5 246.5,511.0 250.5,506.1 254.9,510.0 259.4,517.5 263.9,529.4 269.9,532.4 278.8,527.9 286.3,520.4 290.8,526.4 296.7,531.8 305.7,533.9 316.2,529.4 329.6,530.9 341.6,529.4 350.5,532.4 351.6,532.5" fill="none" stroke="#8af08a" stroke-width="0.80" stroke-linejoin="round" />
<polyline points="105.8,522.1 109.4,526.2 114.5,530.4 118.7,524.2 122.9,518.5 126.0,517.5 130.1,520.0 133.2,518.5 136.4,519.4 140.5,526.2 143.6,528.9 146.8,529.4 149.9,531.8 153.0,528.3 156.1,524.2 160.3,522.1 164.4,520.0 169.6,518.5 173.8,511.7 177.9,508.6 180.5,508.4 187.3,496.2 191.2,502.0 198.3,526.7 204.3,511.0 210.9,493.9 216.1,460.9 220.1,421.4 223.5,406.2 225.7,409.0 229.2,420.7 232.7,432.4 235.0,445.0 236.6,455.0 238.0,468.8 240.7,500.5 243.3,524.2 246.5,487.3 249.6,477.1 253.4,481.6 257.9,487.6 261.5,508.5 265.4,526.4 269.9,529.4 274.3,526.4 277.3,519.0 280.3,521.9 283.3,516.9 286.3,508.5 289.3,513.0 293.2,527.9 296.7,526.4 299.7,530.9 302.7,527.9 305.7,532.4 311.7,533.0 316.2,526.4 320.6,521.9 325.1,525.8 329.6,526.4 335.6,525.2 341.6,525.2 346.0,526.4 350.5,530.9 351.6,531.0" fill="none" stroke="#d2aeb2" stroke-width="1.55" stroke-linejoin="round" />
</g>
<rect x="92.6" y="394.1" width="261.8" height="149.9" fill="none" stroke="#8ad04a" stroke-width="1.9"/>
<line x1="223.4" y1="384.6" x2="223.4" y2="517" stroke="#8fb6e0" stroke-width="0.8"/>
<line x1="136.1" y1="406.8" x2="220.5" y2="406.8" stroke="#d46a98" stroke-width="1.2"/><path d="M131.1 406.8L136.6 404.4L136.6 409.2Z" fill="#d46a98"/>
<line x1="136.6" y1="470.1" x2="222.0" y2="470.1" stroke="#7cc640" stroke-width="1.2"/><path d="M131.6 470.1L137.1 467.7L137.1 472.5Z" fill="#7cc640"/>
<text x="156.6" y="420.1" font-size="9.90" fill="#d46a98" font-family='"Liberation Serif", "Times New Roman", serif' font-weight="bold">4.4251×10<tspan dx="0.3" dy="-6.8" font-size="5.80">7</tspan></text>
<text x="156.0" y="467.6" font-size="9.60" fill="#7cc640" font-family='"Liberation Serif", "Times New Roman", serif' font-weight="bold">2.2503×10<tspan dx="0.4" dy="-7.2" font-size="5.80">7</tspan></text>
<text transform="translate(228.60,437.40) scale(1,1.000)" font-size="8.60" fill="#6c9fdc" text-anchor="start" font-family='"Liberation Serif", "Times New Roman", serif' font-weight="normal">525.8kHz</text>
<text transform="translate(276.40,424.10) scale(1,1.000)" font-size="8.90" fill="#3677c4" text-anchor="start" font-family='"Liberation Serif", "Times New Roman", serif' font-weight="bold">Vibration Stage</text>
<line x1="222.5" y1="517.6" x2="293.5" y2="481.6" stroke="#1a1ae6" stroke-width="1.3"/>
<path d="M298.4 479.2L291.3 479.4L294.0 484.7Z" fill="#1a1ae6"/>
<text x="299.3" y="482.0" font-size="9.50" fill="#1a1ae6" font-family='"Liberation Serif", "Times New Roman", serif' font-weight="bold">1.3410×10<tspan dx="-1.6" dy="-7.6" font-size="5.80">5</tspan></text>
</svg></body></html>
